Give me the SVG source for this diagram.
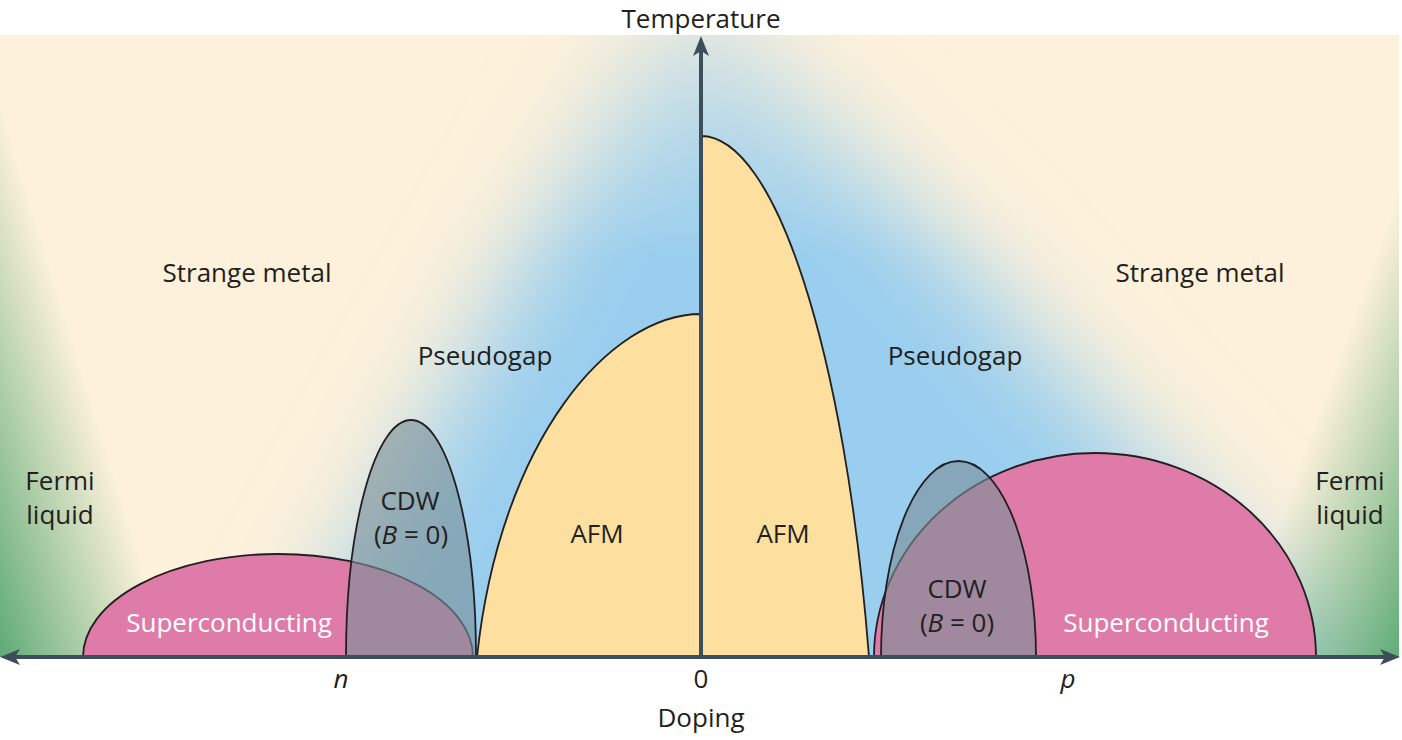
<svg xmlns="http://www.w3.org/2000/svg" width="1402" height="740" viewBox="0 0 1402 740">
<style>
.lbl{font-family:"Open Sans","Liberation Sans",sans-serif;font-size:26px;fill:#231F20;text-anchor:middle}
.wht{fill:#FFFFFF}
.it{font-style:italic}
.dome{stroke:#231F20;stroke-width:1.8;stroke-linejoin:round}
.afm{fill:#FDDFA0}
.sc{fill:#DF7BA8}
.cdw{fill:rgb(121,144,152);fill-opacity:0.62}
.axis{stroke:#3C4E5B;stroke-width:4;fill:none}
</style>
<defs>
<clipPath id="bgclip"><rect x="0" y="35" width="1399" height="622"/></clipPath>
<filter id="blur" filterUnits="userSpaceOnUse" x="-300" y="-300" width="2000" height="1400">
<feGaussianBlur stdDeviation="52"/>
</filter>
<linearGradient id="gL" gradientUnits="userSpaceOnUse" x1="169" y1="651" x2="6.6" y2="701">
<stop offset="0" stop-color="#58A872" stop-opacity="0"/>
<stop offset="1" stop-color="#58A872" stop-opacity="1"/>
</linearGradient>
<linearGradient id="gR" gradientUnits="userSpaceOnUse" x1="1231" y1="650" x2="1391" y2="708.6">
<stop offset="0" stop-color="#58A872" stop-opacity="0"/>
<stop offset="1" stop-color="#58A872" stop-opacity="1"/>
</linearGradient>
<linearGradient id="topFade" gradientUnits="userSpaceOnUse" x1="0" y1="35" x2="0" y2="260">
<stop offset="0" stop-color="#FDF1DB" stop-opacity="0.5"/>
<stop offset="1" stop-color="#FDF1DB" stop-opacity="0"/>
</linearGradient>
<marker id="ah" viewBox="0 0 20 16" refX="8" refY="8" markerWidth="20" markerHeight="16" markerUnits="userSpaceOnUse" orient="auto-start-reverse">
<path d="M0,0 L20,8 L0,16 L5,8 Z" fill="#3C4E5B"/>
</marker>
</defs>

<g id="background" clip-path="url(#bgclip)">
<rect x="0" y="35" width="1399" height="622" fill="#FDF1DB"/>
<polygon points="688,-32 1463,800 220,800" fill="#99CEEE" filter="url(#blur)"/>
<rect x="0" y="35" width="1399" height="622" fill="url(#topFade)"/>
<rect x="0" y="35" width="1399" height="622" fill="url(#gL)"/>
<rect x="0" y="35" width="1399" height="622" fill="url(#gR)"/>
</g>

<g id="sc-left"><path class="dome sc" d="M83,657 A195,103 0 0 1 473,657 Z"/></g>
<g id="cdw-left"><path class="dome cdw" d="M346,657 A65,237 0 0 1 476,657 Z"/></g>
<g id="afm-left"><path class="dome afm" d="M477,657 C500,440 610,314 701,314 L701,657 Z"/></g>
<g id="afm-right"><path class="dome afm" d="M701,657 L701,136 C775,136 845,350 869,657 Z"/></g>
<g id="sc-right"><path class="dome sc" d="M874,657 A221,204 0 0 1 1316,657 Z"/></g>
<g id="cdw-right"><path class="dome cdw" d="M881,657 A77.5,196 0 0 1 1036,657 Z"/></g>

<g id="connectors">
<line class="axis" x1="12" y1="657" x2="1388" y2="657" marker-start="url(#ah)" marker-end="url(#ah)"/>
<line class="axis" x1="701" y1="657" x2="701" y2="48" marker-end="url(#ah)"/>
</g>

<g id="labels">
<text class="lbl" x="701" y="28" style="font-size:26px">Temperature</text>
<text class="lbl" x="701" y="727">Doping</text>
<text class="lbl it" x="341" y="688">n</text>
<text class="lbl" x="701" y="688">0</text>
<text class="lbl it" x="1068" y="688">p</text>
<text class="lbl" x="247" y="282">Strange metal</text>
<text class="lbl" x="1200" y="282">Strange metal</text>
<text class="lbl" x="485" y="365">Pseudogap</text>
<text class="lbl" x="955" y="365">Pseudogap</text>
<text class="lbl" x="60" y="490">Fermi</text>
<text class="lbl" x="60" y="524">liquid</text>
<text class="lbl" x="1350" y="490">Fermi</text>
<text class="lbl" x="1350" y="524">liquid</text>
<text class="lbl" x="410" y="510">CDW</text>
<text class="lbl" x="411" y="544">(<tspan class="it">B</tspan> = 0)</text>
<text class="lbl" x="957" y="598">CDW</text>
<text class="lbl" x="957" y="632">(<tspan class="it">B</tspan> = 0)</text>
<text class="lbl" x="597" y="543">AFM</text>
<text class="lbl" x="783" y="543">AFM</text>
<text class="lbl wht" x="229" y="632">Superconducting</text>
<text class="lbl wht" x="1166" y="632">Superconducting</text>
</g>
</svg>
